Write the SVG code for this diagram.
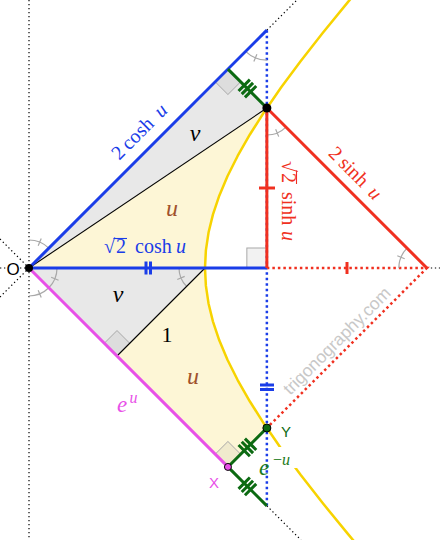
<svg xmlns="http://www.w3.org/2000/svg" width="440" height="540" viewBox="0 0 440 540">
<style>
.dotk{fill:none;stroke:#000;stroke-width:1.2;stroke-dasharray:1.3 2.7}
.dotb{fill:none;stroke:#1a3de8;stroke-width:2.5;stroke-dasharray:2.5 3}
.dotr{fill:none;stroke:#f03020;stroke-width:2.5;stroke-dasharray:2.5 3}
.blue{stroke:#1a3de8;stroke-width:3;fill:none}
.red{stroke:#f03020;stroke-width:3;fill:none}
.mag{stroke:#e850e8;stroke-width:3;fill:none}
.grn{stroke:#0c6a12;stroke-width:3;fill:none}
.thin{stroke:#000;stroke-width:1.1;fill:none}
.arc{stroke:#a8a8a8;stroke-width:1.2;fill:none}
.sq{fill:#808080;fill-opacity:0.1;stroke:#a8a8a8;stroke-width:1}
.m{font-family:"Liberation Serif","Times New Roman",serif;font-size:20px}
.big{font-size:24px}
.i{font-style:italic}
.s{font-family:"Liberation Sans",Arial,sans-serif}
</style>
<rect width="440" height="540" fill="#fff"/>
<g id="regions">
<polygon points="29,268 227.93,69.07 266.86,108" fill="#e8e8e8"/>
<polygon points="29,268 205,268 117,356" fill="#e8e8e8"/>
<polygon points="29,268 266.86,108 264.39,111.69 249.91,134.49 237.64,155.95 227.46,176.29 219.27,195.71 212.98,214.40 208.53,232.56 205.88,250.37 205,268" fill="#fdf6d6"/>
<polygon points="117,356 227.93,466.93 266.86,428 264.39,424.31 249.91,401.51 237.64,380.05 227.46,359.71 219.27,340.29 212.98,321.60 208.53,303.44 205.88,285.63 205,268" fill="#fdf6d6"/>
</g>
<g id="axes">
<line class="dotk" x1="29" y1="0" x2="29" y2="540"/>
<line class="dotk" x1="0" y1="268" x2="29" y2="268"/>
<line class="dotk" x1="426.86" y1="268" x2="440" y2="268"/>
<line class="dotk" x1="0" y1="297" x2="29" y2="268"/>
<line class="dotk" x1="266.86" y1="30.14" x2="297" y2="0"/>
<line class="dotk" x1="0" y1="239" x2="29" y2="268"/>
<line class="dotk" x1="266.86" y1="505.86" x2="301" y2="540"/>
<line class="dotb" x1="266.86" y1="30.14" x2="266.86" y2="505.86"/>
<polyline class="dotr" points="266.86,268 426.86,268 266.86,428"/>
</g>
<polyline id="hyperbola" fill="none" stroke="#f7d300" stroke-width="2.5" stroke-linejoin="round" points="361.36,-13.94 347.68,2.34 322.66,32.93 300.58,61.16 281.22,87.33 264.39,111.69 249.91,134.49 237.64,155.95 227.46,176.29 219.27,195.71 212.98,214.40 208.53,232.56 205.88,250.37 205,268 205.88,285.63 208.53,303.44 212.98,321.60 219.27,340.29 227.46,359.71 237.64,380.05 249.91,401.51 264.39,424.31 281.22,448.67 300.58,474.84 322.66,503.07 347.68,533.66 361.36,549.94"/>
<rect x="274" y="447" width="24" height="21" fill="#fff"/>
<g id="right-angles">
<polygon class="sq" points="227.93,69.07 215.2,81.8 227.93,94.53 240.66,81.8"/>
<polygon class="sq" points="117,356 104.27,343.27 117,330.54 129.73,343.27"/>
<polygon class="sq" points="227.93,466.93 215.2,454.2 227.93,441.47 240.66,454.2"/>
<rect class="sq" x="246.86" y="248" width="20" height="20"/>
</g>
<g id="angles">
<path class="arc" d="M245.65,51.35 A30,30 0 0 0 266.86,60.14 M256.91,54.16 L253.85,61.55"/>
<path class="arc" d="M266.86,135 A27,27 0 0 0 285.95,127.09 M275.66,129.25 L278.72,136.64"/>
<path class="arc" d="M398.86,268 A28,28 0 0 1 407.06,248.2 M404.69,258.82 L397.30,255.75"/>
<path class="arc" d="M29,240 A28,28 0 0 1 48.8,248.2 M38.18,245.83 L41.25,238.44"/>
<path class="arc" d="M57,268 A28,28 0 0 1 29,296 M51.17,277.18 L58.56,280.25 M38.18,290.17 L41.25,297.56"/>
<path class="arc" d="M179,268 A26,26 0 0 0 186.62,286.38 M184.67,276.42 L177.28,279.48"/>
</g>
<g id="segments">
<line class="thin" x1="29" y1="268" x2="266.86" y2="108"/>
<line class="thin" x1="205" y1="268" x2="117" y2="356"/>
<line class="blue" x1="29" y1="268" x2="266.86" y2="30.14"/>
<line class="blue" x1="29" y1="268" x2="266.86" y2="268"/>
<line class="red" x1="266.86" y1="108" x2="266.86" y2="268"/>
<line class="red" x1="266.86" y1="108" x2="426.86" y2="268"/>
<line class="mag" x1="29" y1="268" x2="227.93" y2="466.93"/>
<line class="grn" x1="227.93" y1="69.07" x2="266.86" y2="108"/>
<polyline class="grn" points="266.86,428 227.93,466.93 266.86,505.86"/>
</g>
<g id="ticks">
<path class="blue" d="M146,261.5 V274.5 M150.5,261.5 V274.5"/>
<path class="blue" stroke-width="2.5" d="M260,385 H274 M260,389.5 H274"/>
<path class="red" d="M259,188 H275"/>
<path class="red" stroke-width="2.5" d="M347,262 V274"/>
<path class="grn" d="M238.56,90.98 L249.88,79.66 M241.74,94.16 L253.06,82.84 M244.92,97.34 L256.24,86.02"/>
<path class="grn" d="M244.92,438.63 L256.24,449.95 M241.74,441.81 L253.06,453.13 M238.56,444.99 L249.88,456.31"/>
<path class="grn" d="M238.56,488.88 L249.88,477.56 M241.74,492.06 L253.06,480.74 M244.92,495.24 L256.24,483.92"/>
</g>
<g id="points">
<circle id="O" cx="29" cy="268" r="4" fill="#000"/>
<circle id="P" cx="266.86" cy="108" r="4.5" fill="#000"/>
<circle id="Y" cx="266.86" cy="428" r="4" fill="#0c6a12" stroke="#000" stroke-width="1"/>
<circle id="X" cx="227.93" cy="466.93" r="3.5" fill="#e850e8" stroke="#000" stroke-width="1"/>
</g>
<g id="labels">
<rect x="6" y="260" width="14" height="16" fill="#fff"/>
<text class="s" x="13" y="275" font-size="17" text-anchor="middle">O</text>
<g transform="translate(119.15,160.85) rotate(-45)"><text class="m" fill="#1a3de8"><tspan x="0" y="0">2</tspan><tspan x="14">cosh</tspan><tspan x="60" class="i">u</tspan></text></g>
<text class="m i big" x="195" y="141" text-anchor="middle">v</text>
<text class="m i big" x="172" y="216" fill="#a0522d" text-anchor="middle">u</text>
<text class="m" fill="#1a3de8" y="253"><tspan x="104">√</tspan><tspan x="116">2</tspan><tspan x="135">cosh</tspan><tspan x="176" class="i">u</tspan></text>
<line x1="113.5" y1="238.5" x2="127" y2="238.5" stroke="#1a3de8" stroke-width="1.1"/>
<g transform="translate(282,160) rotate(90)"><text class="m" fill="#f03020" y="0"><tspan x="1">√</tspan><tspan x="13">2</tspan><tspan x="32">sinh</tspan><tspan x="71" class="i">u</tspan></text><line x1="10.5" y1="-14.5" x2="24" y2="-14.5" stroke="#f03020" stroke-width="1.1"/></g>
<g transform="translate(327.5,154.5) rotate(45)"><text class="m" fill="#f03020"><tspan x="0" y="0">2</tspan><tspan x="14">sinh</tspan><tspan x="56" class="i">u</tspan></text></g>
<text class="m i big" x="118" y="302" text-anchor="middle">v</text>
<text class="m" x="167" y="342" style="font-size:22px" text-anchor="middle">1</text>
<text class="m i big" x="193" y="384" fill="#a0522d" text-anchor="middle">u</text>
<text class="m i" fill="#e850e8"><tspan x="117" y="412" style="font-size:23px">e</tspan><tspan x="129.5" y="403" style="font-size:16px">u</tspan></text>
<text class="m" fill="#1a7a1a"><tspan x="259" y="475" style="font-size:23px;font-style:italic">e</tspan><tspan x="273" y="465" style="font-size:16px">−</tspan><tspan style="font-size:16px;font-style:italic">u</tspan></text>
<text class="s" x="281" y="437" font-size="15" fill="#0c6a12">Y</text>
<text class="s" x="209" y="488" font-size="15" fill="#e850e8">X</text>
<text class="s" transform="translate(341,345) rotate(-45)" text-anchor="middle" font-size="17.5" fill="#c8c8c8">trigonography.com</text>
</g>
</svg>
